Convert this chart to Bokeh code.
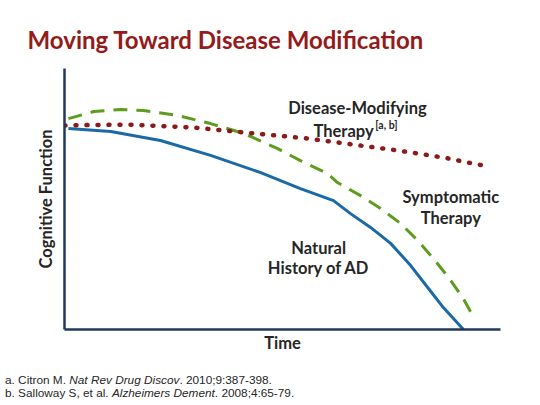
from bokeh.plotting import figure
from bokeh.models import Range1d, FixedTicker, Label, Div
from bokeh.layouts import column
from bokeh.embed import file_html
from bokeh.resources import INLINE

# ---- data (arbitrary 0-100 units) ----
time_natural = [0.9, 10.6, 22.0, 33.5, 45.0, 54.1, 61.7, 65.6, 70.2, 74.8, 79.4, 83.3, 86.9, 91.5]
cog_natural = [77.0, 75.9, 72.4, 66.7, 60.1, 54.0, 49.4, 44.4, 39.1, 33.0, 24.5, 16.1, 8.4, 0.0]

time_symptomatic = [0.9, 6.7, 12.8, 18.1, 25.9, 33.5, 41.1, 48.9, 54.1, 60.3, 62.6, 67.9,
                    72.5, 77.1, 81.0, 84.6, 88.1, 91.3, 93.6]
cog_symptomatic = [80.8, 83.5, 84.3, 83.9, 82.0, 78.9, 75.1, 69.3, 64.7, 59.8, 56.3, 51.3,
                   46.4, 40.6, 34.1, 27.2, 19.9, 12.3, 5.4]

time_dmt = [0.0, 14.4, 29.6, 41.1, 55.7, 76.4, 86.9, 96.1]
cog_dmt = [78.2, 78.5, 77.4, 75.5, 73.2, 68.6, 65.9, 62.8]

title_text = "Moving Toward Disease Modification"
x_label = "Time"
y_label = "Cognitive Function"
footnote_a = ("a. Citron M. ", "Nat Rev Drug Discov", ". 2010;9:387-398.")
footnote_b = ("b. Salloway S, et al. ", "Alzheimers Dement", ". 2008;4:65-79.")

FONT = "Lato"
TXT = "#262626"

p = figure(width=532, height=356,
           x_range=Range1d(0, 100), y_range=Range1d(0, 100),
           output_backend="svg", toolbar_location=None,
           min_border_left=64, min_border_right=32,
           min_border_top=68, min_border_bottom=27,
           x_axis_label=x_label, y_axis_label=y_label,
           title=title_text)

p.title.text_font = FONT
p.title.text_font_style = "bold"
p.title.text_font_size = "24px"
p.title.text_color = "#951b1b"
p.title.align = "left"
p.title.vertical_align = "top"
p.title.offset = -37
p.title.standoff = 26

p.grid.visible = False
p.outline_line_color = None
p.background_fill_color = "white"
p.border_fill_color = "white"

for ax in (p.xaxis[0], p.yaxis[0]):
    ax.ticker = FixedTicker(ticks=[])
    ax.major_tick_line_color = None
    ax.minor_tick_line_color = None
    ax.major_label_text_font_size = "0px"
    ax.major_label_standoff = 0
    ax.axis_line_color = "#1f3a5c"
    ax.axis_line_width = 2.5
    ax.axis_label_text_font = FONT
    ax.axis_label_text_font_style = "bold"
    ax.axis_label_text_font_size = "16.5px"
    ax.axis_label_text_color = TXT
p.xaxis[0].axis_label_standoff = 3
p.yaxis[0].axis_label_standoff = 9

# ---- curves ----
p.line(time_natural, cog_natural, line_color="#1b6aa5", line_width=3)
p.line(time_symptomatic, cog_symptomatic, line_color="#5e9c20", line_width=3,
       line_dash="14 9")
p.line(time_dmt, cog_dmt, line_color="#8b1a1a", line_width=4.5,
       line_dash="1 10", line_cap="round")

# ---- curve labels ----
def lab(x, y, text, align="center", size="16.5px"):
    p.add_layout(Label(x=x, y=y, text=text,
                       text_align=align, text_baseline="middle",
                       text_font=FONT, text_font_style="bold",
                       text_font_size=size, text_color=TXT))

lab(67.2, 84.7, "Disease-Modifying")
lab(70.9, 76.2, "Therapy", align="right")
lab(71.3, 78.3, "[a, b]", align="left", size="10.5px")
lab(88.6, 50.6, "Symptomatic")
lab(88.6, 42.9, "Therapy")
lab(58.3, 31.4, "Natural")
lab(58.3, 23.4, "History of AD")

# ---- footnotes ----
def fn(parts):
    return f"{parts[0]}<i>{parts[1]}</i>{parts[2]}"

notes = Div(text=fn(footnote_a) + "<br>" + fn(footnote_b), width=532, height=45,
            styles={"font-family": "Liberation Sans", "font-size": "11.8px",
                    "line-height": "13.2px", "color": TXT,
                    "padding-top": "13px"})

open("out.html", "w").write(file_html(column(p, notes), INLINE))
